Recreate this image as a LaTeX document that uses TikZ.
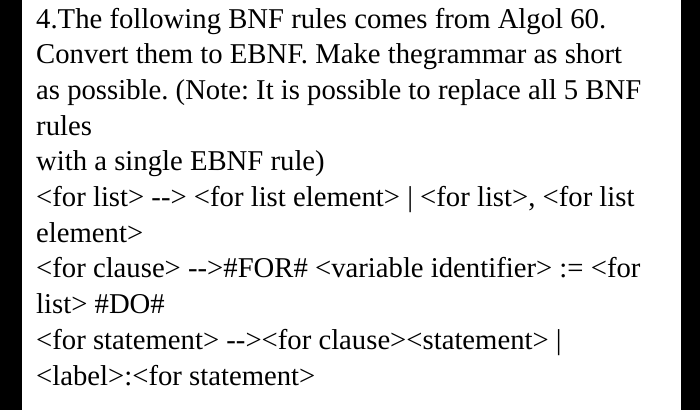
\documentclass[tikz,border=0pt]{standalone}
\usepackage{fontspec}
\setmainfont{Liberation Serif}
\begin{document}
\frenchspacing
\begin{tikzpicture}[x=1pt,y=-1pt,txt/.style={anchor=base west,inner sep=0pt,font=\fontsize{28.7}{30}\selectfont}]
\useasboundingbox (0,0) rectangle (700,410);
\fill[white] (0,0) rectangle (700,410);
\fill[black] (0,0) rectangle (22,410);
\fill[black] (681,0) rectangle (700,410);
\foreach \t [count=\i from 0] in {
{4.The following BNF rules comes from Algol 60.},
{Convert them to EBNF. Make thegrammar as short},
{as possible. (Note: It is possible to replace all 5 BNF},
{rules},
{with a single EBNF rule)},
{<for list> -{}-> <for list element> | <for list>, <for list},
{element>},
{<for clause> -{}->\#FOR\# <variable identifier> := <for},
{list> \#DO\#},
{<for statement> -{}-><for clause><statement> |},
{<label>:<for statement>}}
\node[txt] (l\i) at (36,{28+35.7*\i}) {\t};
\end{tikzpicture}
\end{document}
